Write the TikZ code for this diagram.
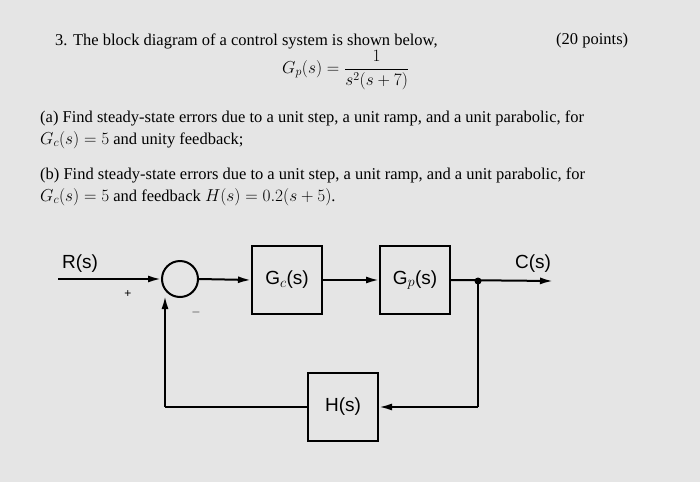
\documentclass[tikz,border=0pt]{standalone}
\usepackage{amsmath}
\usepackage{fontspec}
\setmainfont{Liberation Serif}
\newfontfamily\diagfont{Liberation Sans}
\usetikzlibrary{arrows.meta}
\begin{document}
\begin{tikzpicture}[x=1pt,y=-1pt,
  txt/.style={anchor=west,inner sep=0pt,font=\fontsize{16.5}{19}\selectfont},
  blk/.style={draw,line width=2pt,minimum width=70pt,minimum height=68pt,font=\diagfont\fontsize{19}{22}\selectfont},
  wire/.style={line width=2pt},
  arr/.style={wire,-{Latex[length=13pt,width=7pt]}},
  lab/.style={font=\diagfont\fontsize{19}{22}\selectfont}]
\fill[white!90!black] (0,0) rectangle (700,482);
\useasboundingbox (0,0) rectangle (700,482);
\node[txt] (t1) at (55,41) {3. The block diagram of a control system is shown below,};
\node[txt] (t2) at (556,41) {(20 points)};
\node[txt] (t3) at (282,70) {$G_p(s) = \dfrac{1}{s^2(s+7)}$};
\node[txt] (t4) at (40,118) {(a) Find steady-state errors due to a unit step, a unit ramp, and a unit parabolic, for};
\node[txt] (t5) at (40,140) {$G_c(s)=5$ and unity feedback;};
\node[txt] (t6) at (40,175) {(b) Find steady-state errors due to a unit step, a unit ramp, and a unit parabolic, for};
\node[txt] (t7) at (40,197) {$G_c(s)=5$ and feedback $H(s)=0.2(s+5)$.};
\coordinate (in) at (58,279);
\node[draw,circle,line width=2pt,minimum size=36pt,inner sep=0pt] (sum) at (180,279) {};
\node[blk] (gc) at (287,280) {G$_c$(s)};
\node[blk] (gp) at (415,280) {G$_p$(s)};
\coordinate (j) at (478,281);
\coordinate (out) at (553,281);
\node[blk] (h) at (343,407) {H(s)};
\coordinate (br) at (478,407);
\coordinate (bl) at (165,407);
\coordinate (bu) at (165,296);
\draw[arr] (in) -- (sum.west);
\draw[arr] (sum.east) -- (gc.west);
\draw[arr] (gc.east) -- (gp.west);
\draw[arr] (gp.east) -- (out);
\fill (j) circle (3.5pt);
\draw[wire] (j) -- (br);
\draw[arr] (br) -- (h.east);
\draw[wire] (h.west) -- (bl);
\draw[arr] (bl) -- (bu);
\node[lab] (r) at (80,264) {R(s)};
\node[lab] (c) at (533,264) {C(s)};
\node[font=\diagfont\large] (plus) at (128,294) {+};
\node[font=\diagfont\large] (minus) at (196,312) {$-$};
\end{tikzpicture}
\end{document}
